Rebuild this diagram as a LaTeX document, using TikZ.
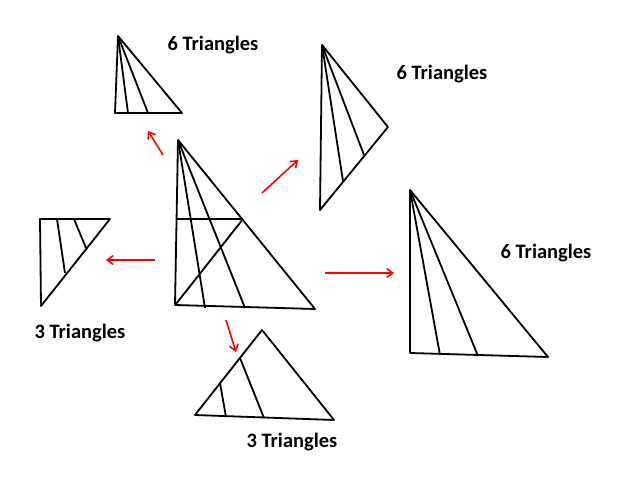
\documentclass[tikz,border=0pt]{standalone}
\usepackage{fontspec}
\setmainfont{Carlito}
\usetikzlibrary{arrows.meta}
\begin{document}
\begin{tikzpicture}[x=1pt,y=-1pt,
  tri/.style={line width=1.8pt,line join=round},
  red arrow/.style={draw=red,line width=1.6pt,-{Straight Barb[length=6pt,width=9pt]}},
  lbl/.style={font=\bfseries\fontsize{20.5}{24}\selectfont}]
\useasboundingbox (0,0) rectangle (638,478);
% center
\draw[tri] (178,140) -- (175,305) -- (315,309) -- cycle;
\draw[tri] (176,219) -- (243,219);
\draw[tri] (176,304) -- (243,219);
\draw[tri] (178,140) -- (205,308);
\draw[tri] (178,140) -- (245,308);
% top-left
\draw[tri] (118,36) -- (115,113) -- (182,113) -- cycle;
\draw[tri] (118,36) -- (128,113);
\draw[tri] (118,36) -- (148,113);
% top-right
\draw[tri] (322,45) -- (320,210) -- (388,127) -- cycle;
\draw[tri] (322,45) -- (343,181);
\draw[tri] (322,45) -- (364,155);
% right big
\draw[tri] (410,190) -- (410,353) -- (548,357) -- cycle;
\draw[tri] (410,190) -- (440,355);
\draw[tri] (410,190) -- (478,356);
% left
\draw[tri] (40,219) -- (110,219) -- (41,306) -- cycle;
\draw[tri] (57,219) -- (65,273);
\draw[tri] (74,219) -- (86,248);
% bottom
\draw[tri] (262,330) -- (195,415) -- (334,420) -- cycle;
\draw[tri] (220,383) -- (226,417);
\draw[tri] (240,358) -- (264,418);
% arrows
\coordinate (a1) at (155,260); \coordinate (b1) at (106,260);
\coordinate (a2) at (226,320); \coordinate (b2) at (236,352);
\coordinate (a3) at (325,273); \coordinate (b3) at (394,273);
\coordinate (a4) at (262,193); \coordinate (b4) at (298,160);
\coordinate (a5) at (163,155); \coordinate (b5) at (148,131);
\foreach \i in {1,...,5} \draw[red arrow] (a\i) -- (b\i);
% labels
\node[lbl] (l1) at (213,45) {6 Triangles};
\node[lbl] (l2) at (442,74) {6 Triangles};
\node[lbl] (l3) at (546,253) {6 Triangles};
\node[lbl] (l4) at (80,333) {3 Triangles};
\node[lbl] (l5) at (292,442) {3 Triangles};
\end{tikzpicture}
\end{document}
